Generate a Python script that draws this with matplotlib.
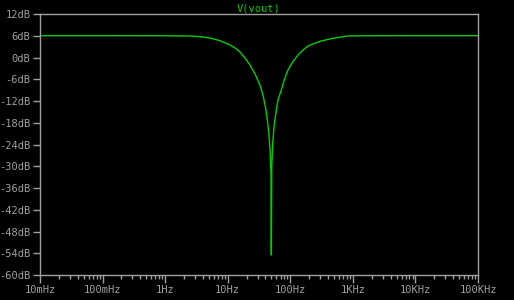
#!/usr/bin/env python3

import matplotlib
matplotlib.use('Agg')
import matplotlib.pyplot as plt
from matplotlib.ticker import LogLocator, NullFormatter

# frequency response of V(vout)
freq_hz = [0.01, 0.1, 0.5, 1, 1.8, 2.5, 3.6, 5.2, 7.5, 10.9, 13.1, 15.7, 18.9,
           22.7, 27.3, 32.8, 37.1, 40.9, 43.5, 45.7, 47.4, 49.2, 49.8, 50.6,
           52.4, 55.5, 59.8, 63.7, 71.8, 81.5, 92, 110, 133, 160, 192, 245,
           313, 400, 513, 836, 1300, 1860, 10000, 100000]
mag_db = [6.02, 6.02, 6.01, 5.99, 5.96, 5.93, 5.74, 5.38, 4.64, 3.45, 2.62, 1.52,
          -0.14, -2.07, -4.55, -7.6, -10.8, -14.5, -18.0, -21.4, -25.5, -31.9,
          -54.5, -30.0, -23.5, -18.5, -14.5, -11.7, -8.97, -5.75, -3.45, -1.15,
          0.69, 2.07, 3.17, 3.91, 4.55, 5.0, 5.38, 5.93, 5.98, 6.0, 6.02, 6.02]

x_ticks = [0.01, 0.1, 1, 10, 100, 1e3, 1e4, 1e5]
x_labels = ['10mHz', '100mHz', '1Hz', '10Hz', '100Hz', '1KHz', '10KHz', '100KHz']
y_ticks = list(range(-60, 13, 6))
y_labels = ['%ddB' % v for v in y_ticks]

grey = '#a0a0a0'
trace = '#00d000'

fig = plt.figure(figsize=(5.14, 3.0), dpi=100, facecolor='black')
ax = fig.add_axes([40 / 514, 25 / 300, 438 / 514, 261 / 300], facecolor='black')

ax.plot(freq_hz, mag_db, color=trace, linewidth=1.0)

ax.set_xscale('log')
ax.set_xlim(0.01, 1e5)
ax.set_ylim(-60, 12)
ax.set_xticks(x_ticks)
ax.set_xticklabels(x_labels, fontsize=7.5, family='DejaVu Sans Mono', color=grey)
ax.xaxis.set_minor_locator(LogLocator(base=10, subs=range(2, 10), numticks=20))
ax.xaxis.set_minor_formatter(NullFormatter())
ax.set_yticks(y_ticks)
ax.set_yticklabels(y_labels, fontsize=7.5, family='DejaVu Sans Mono', color=grey)

for s in ax.spines.values():
    s.set_color(grey)
    s.set_linewidth(1.0)
ax.tick_params(axis='x', which='major', length=6, width=1, color=grey, pad=1.5)
ax.tick_params(axis='x', which='minor', length=3, width=1, color=grey)
ax.tick_params(axis='y', which='major', length=5, width=1, color=grey, pad=2)

ax.set_title('V(vout)', fontsize=7.5, family='DejaVu Sans Mono', color=trace, pad=1)

fig.savefig('out.png', dpi=100, facecolor='black')
